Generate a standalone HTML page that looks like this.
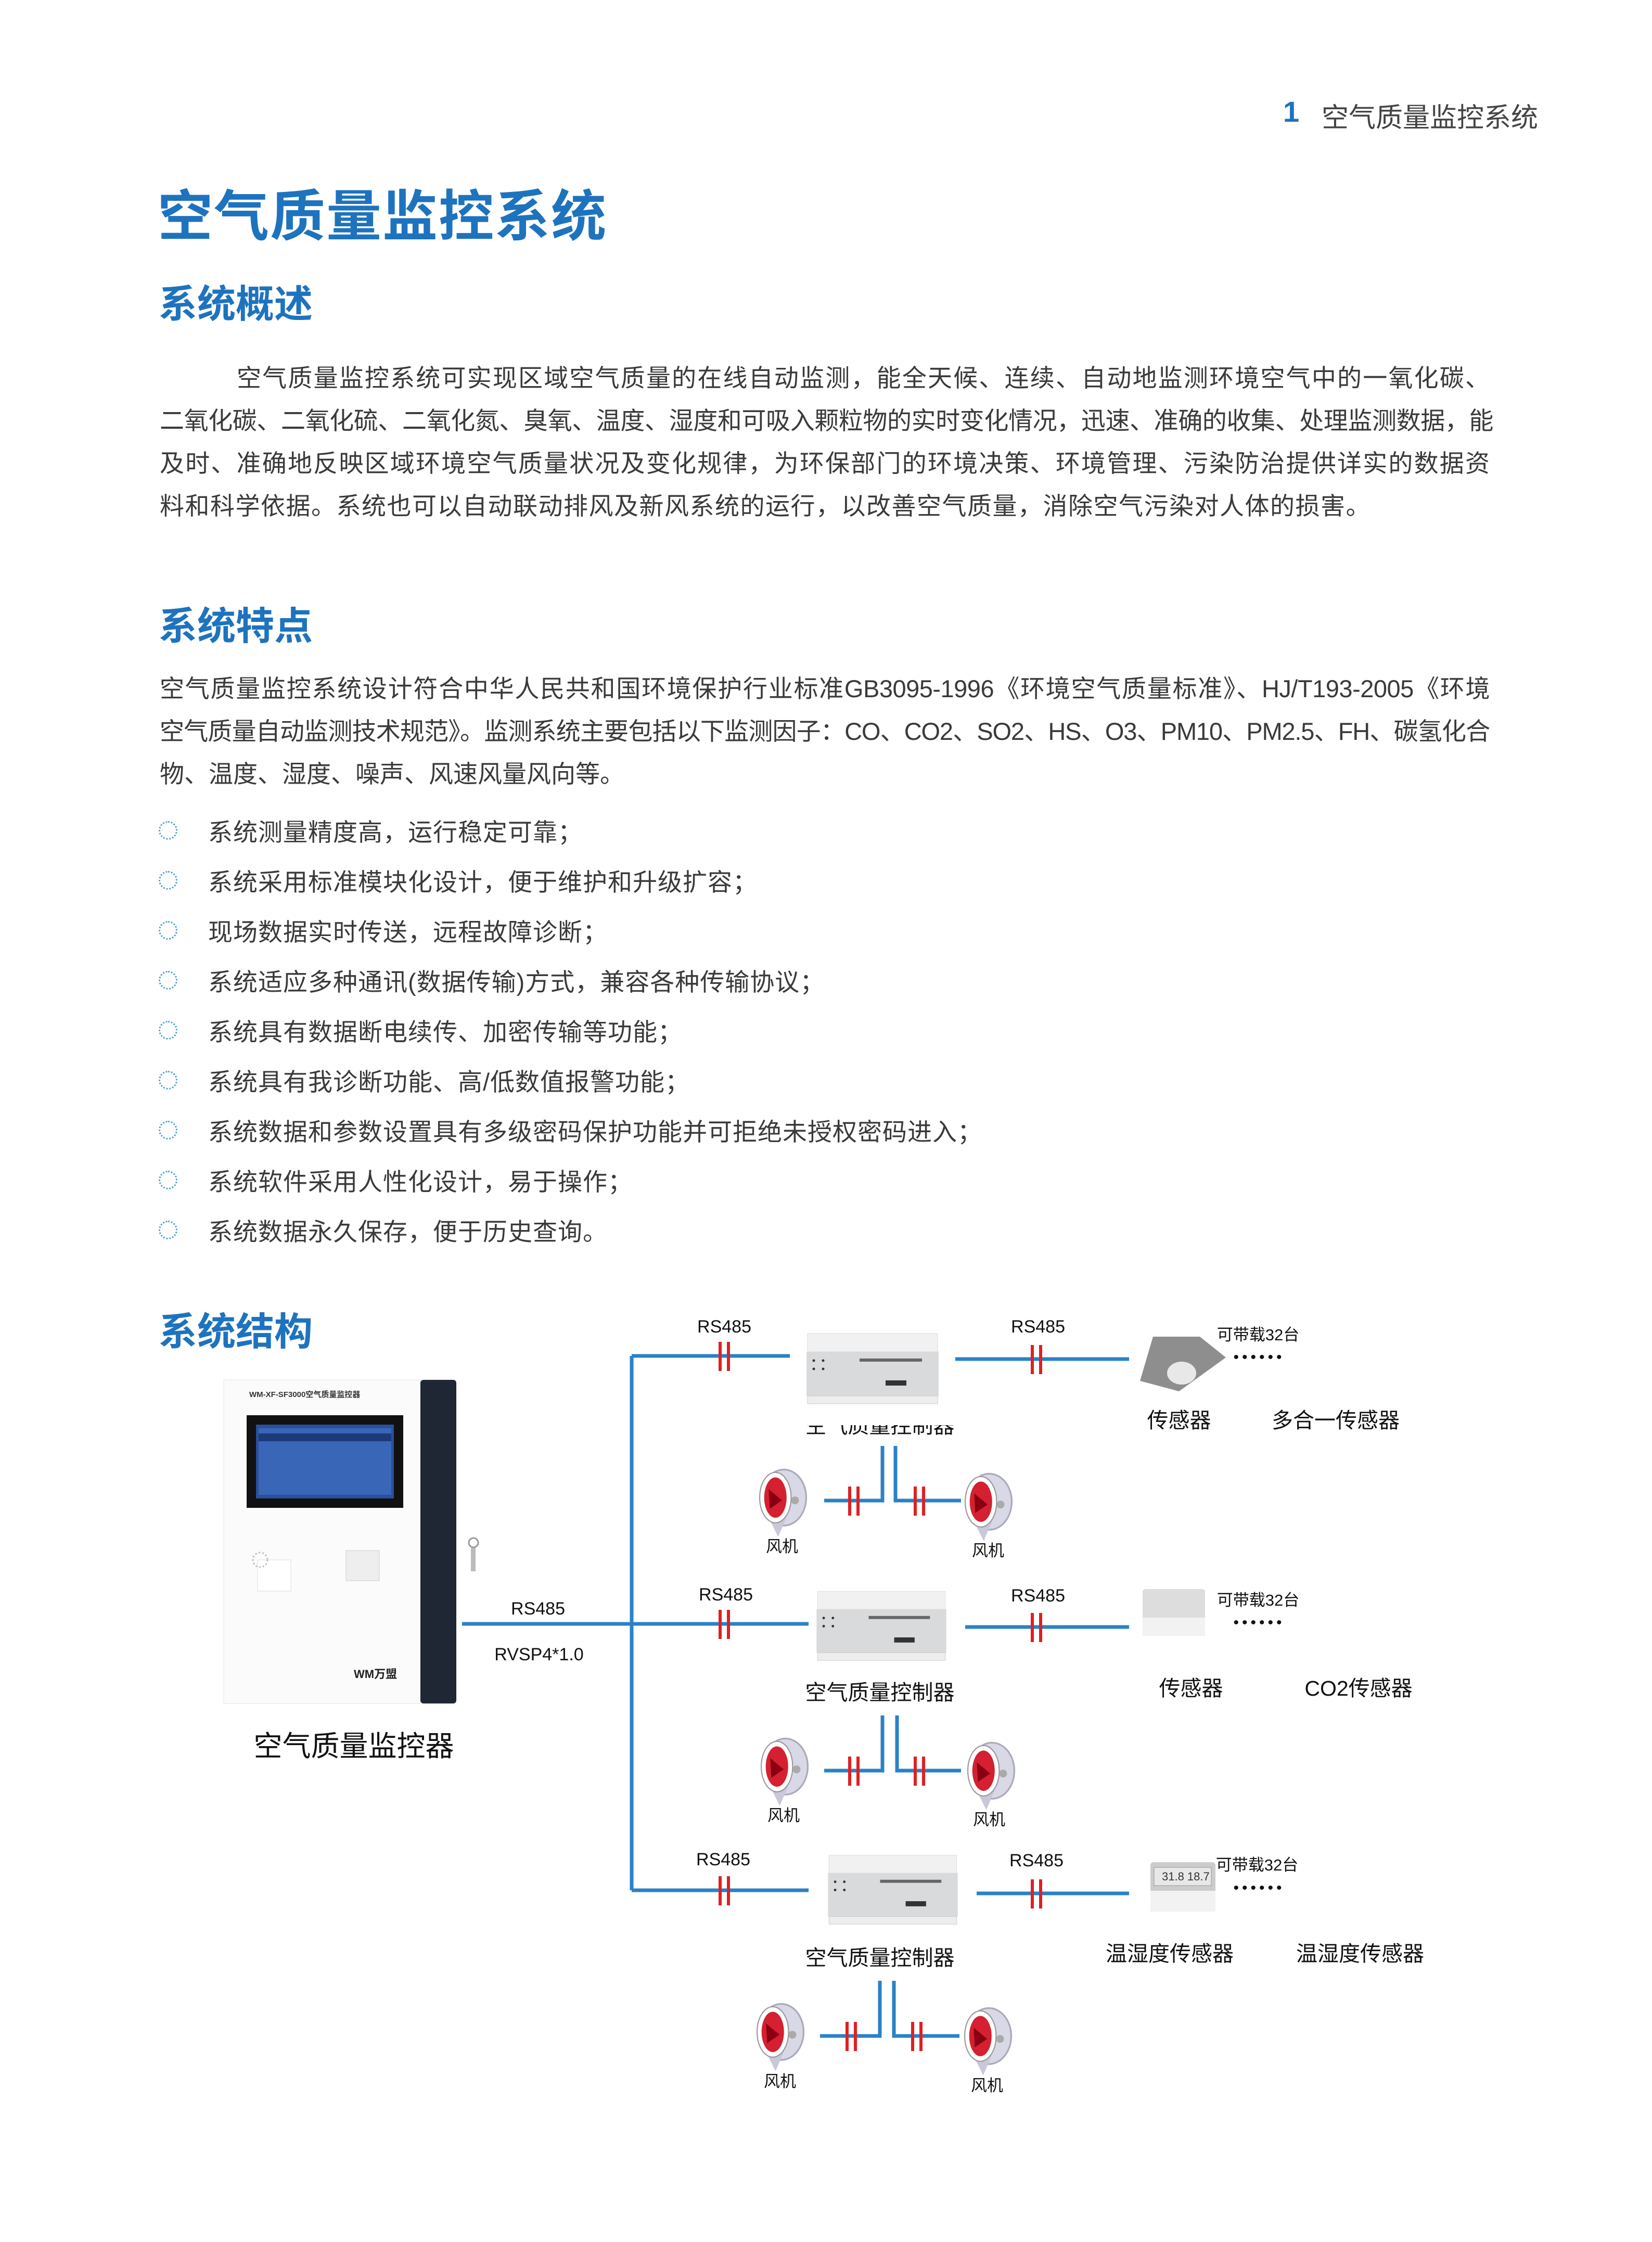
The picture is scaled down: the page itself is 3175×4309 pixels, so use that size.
<!DOCTYPE html>
<html><head><meta charset="utf-8">
<style>
body{margin:0;background:#fff;}
#p{position:relative;width:3175px;height:4309px;overflow:hidden;background:#fff;font-family:"Liberation Sans","Noto Sans CJK SC",sans-serif;color:#333;}
.a{position:absolute;white-space:nowrap;}
.h{color:#1e73be;font-weight:bold;}
.j{position:absolute;left:307px;width:2556px;font-size:47px;text-align:justify;text-align-last:justify;white-space:nowrap;color:#3a3a3a;}
.b{position:absolute;left:400px;font-size:47px;color:#3a3a3a;letter-spacing:1px;}
.bi{position:absolute;left:305px;width:30px;height:30px;border:3px dotted #4a9fd8;border-radius:50%;}
</style></head><body><div id="p">
<div class="a" style="left:2466px;top:182px;font-size:56px;color:#1e73be;font-weight:bold;">1</div>
<div class="a" style="left:2540px;top:184px;font-size:52px;color:#444;">空气质量监控系统</div>
<div class="a h" style="left:303px;top:330px;font-size:106px;letter-spacing:2px;">空气质量监控系统</div>
<div class="a h" style="left:305px;top:525px;font-size:74px;">系统概述</div>
<div class="j" style="top:688px;left:455px;width:2408px;">空气质量监控系统可实现区域空气质量的在线自动监测，能全天候、连续、自动地监测环境空气中的一氧化碳、</div>
<div class="j" style="top:770px;letter-spacing:-0.4px;">二氧化碳、二氧化硫、二氧化氮、臭氧、温度、湿度和可吸入颗粒物的实时变化情况，迅速、准确的收集、处理监测数据，能</div>
<div class="j" style="top:852px;">及时、准确地反映区域环境空气质量状况及变化规律，为环保部门的环境决策、环境管理、污染防治提供详实的数据资</div>
<div class="a" style="left:307px;top:934px;font-size:47px;color:#3a3a3a;letter-spacing:1.5px;">料和科学依据。系统也可以自动联动排风及新风系统的运行，以改善空气质量，消除空气污染对人体的损害。</div>
<div class="a h" style="left:305px;top:1144px;font-size:74px;">系统特点</div>
<div class="j" style="top:1285px;letter-spacing:-0.5px;">空气质量监控系统设计符合中华人民共和国环境保护行业标准GB3095-1996《环境空气质量标准》、HJ/T193-2005《环境</div>
<div class="j" style="top:1367px;letter-spacing:-1.2px;">空气质量自动监测技术规范》。监测系统主要包括以下监测因子：CO、CO2、SO2、HS、O3、PM10、PM2.5、FH、碳氢化合</div>
<div class="a" style="left:307px;top:1449px;font-size:47px;color:#3a3a3a;">物、温度、湿度、噪声、风速风量风向等。</div>
<div class="bi" style="top:1578px"></div><div class="b" style="top:1561px">系统测量精度高，运行稳定可靠；</div>
<div class="bi" style="top:1674px"></div><div class="b" style="top:1657px">系统采用标准模块化设计，便于维护和升级扩容；</div>
<div class="bi" style="top:1770px"></div><div class="b" style="top:1753px">现场数据实时传送，远程故障诊断；</div>
<div class="bi" style="top:1866px"></div><div class="b" style="top:1849px">系统适应多种通讯(数据传输)方式，兼容各种传输协议；</div>
<div class="bi" style="top:1962px"></div><div class="b" style="top:1945px">系统具有数据断电续传、加密传输等功能；</div>
<div class="bi" style="top:2058px"></div><div class="b" style="top:2041px">系统具有我诊断功能、高/低数值报警功能；</div>
<div class="bi" style="top:2154px"></div><div class="b" style="top:2137px">系统数据和参数设置具有多级密码保护功能并可拒绝未授权密码进入；</div>
<div class="bi" style="top:2250px"></div><div class="b" style="top:2233px">系统软件采用人性化设计，易于操作；</div>
<div class="bi" style="top:2346px"></div><div class="b" style="top:2329px">系统数据永久保存，便于历史查询。</div>
<div class="a h" style="left:305px;top:2500px;font-size:74px;">系统结构</div>

<svg class="a" style="left:0;top:0" width="3175" height="4309" viewBox="0 0 3175 4309" font-family="Liberation Sans, Noto Sans CJK SC, sans-serif">
<defs>
<symbol id="ctl" viewBox="0 0 270 165">
<rect x="0" y="0" width="270" height="165" fill="#fff"/>
<rect x="10" y="20" width="250" height="35" fill="#f1f1f1" stroke="#ddd"/>
<rect x="8" y="55" width="254" height="85" fill="#d9dadc"/>
<rect x="10" y="140" width="250" height="15" fill="#eee" stroke="#ccc"/>
<circle cx="22" cy="72" r="2.5" fill="#333"/><circle cx="40" cy="72" r="2.5" fill="#333"/>
<circle cx="22" cy="88" r="2.5" fill="#333"/><circle cx="40" cy="88" r="2.5" fill="#333"/>
<rect x="110" y="68" width="120" height="6" fill="#666"/>
<rect x="160" y="110" width="40" height="10" fill="#333"/>
</symbol>
<symbol id="fan" viewBox="0 0 100 130">
<ellipse cx="55" cy="55" rx="40" ry="50" fill="#d8d8e6" stroke="#aab" stroke-width="3"/>
<path d="M30 95 L45 125 L60 90 Z" fill="#c8c8d8"/>
<ellipse cx="40" cy="55" rx="28" ry="45" fill="#fff" stroke="#999" stroke-width="2"/>
<ellipse cx="40" cy="55" rx="20" ry="36" fill="#d42030"/>
<path d="M28 40 L52 60 L30 75 Z" fill="#8a0010"/>
<circle cx="75" cy="60" r="7" fill="#aaa"/>
</symbol>
</defs>
<g transform="translate(6,9)">
<g stroke="#2a82c8" stroke-width="7" fill="none">
<path d="M882 3112 H1208 M1208 2597 V3624 M1208 2597 H1512 M1208 3112 H1548 M1208 3624 H1548"/>
<path d="M1830 2603 H2164 M1849 3118 H2164 M1871 3630 H2164"/>
<path d="M1578 2875 H1690 V2770 M1715 2770 V2875 H1841"/>
<path d="M1578 3394 H1690 V3288 M1718 3288 V3394 H1841"/>
<path d="M1570 3904 H1685 V3798 M1712 3798 V3904 H1838"/>
</g>
<g stroke="#e02020" stroke-width="6">
<path d="M1378 2570 v56 M1394 2570 v56 M1978 2576 v56 M1994 2576 v56"/>
<path d="M1378 3085 v56 M1394 3085 v56 M1978 3091 v56 M1994 3091 v56"/>
<path d="M1378 3597 v56 M1394 3597 v56 M1978 3603 v56 M1994 3603 v56"/>
<path d="M1627 2848 v56 M1643 2848 v56 M1753 2848 v56 M1769 2848 v56"/>
<path d="M1627 3367 v56 M1643 3367 v56 M1753 3367 v56 M1769 3367 v56"/>
<path d="M1622 3877 v56 M1638 3877 v56 M1748 3877 v56 M1764 3877 v56"/>
</g>
<use href="#ctl" x="1534" y="2534" width="274" height="165"/>
<use href="#ctl" x="1553" y="3030" width="270" height="162"/>
<use href="#ctl" x="1575" y="3537" width="270" height="162"/>
<use href="#fan" x="1440" y="2810" width="110" height="140"/>
<use href="#fan" x="1835" y="2818" width="110" height="140"/>
<use href="#fan" x="1443" y="3327" width="110" height="140"/>
<use href="#fan" x="1840" y="3335" width="110" height="140"/>
<use href="#fan" x="1435" y="3837" width="110" height="140"/>
<use href="#fan" x="1834" y="3845" width="110" height="140"/>
<path d="M2210 2560 L2300 2560 L2350 2600 L2260 2665 L2185 2645 Z" fill="#8e8e8e"/>
<ellipse cx="2265" cy="2630" rx="28" ry="22" fill="#e8e8e8"/>
<rect x="2190" y="3045" width="120" height="90" rx="6" fill="#ddd"/><rect x="2190" y="3100" width="120" height="35" fill="#f2f2f2"/>
<rect x="2205" y="3570" width="125" height="95" rx="6" fill="#ccc"/><rect x="2212" y="3580" width="110" height="35" fill="#e8e8e8" stroke="#999"/><rect x="2205" y="3625" width="125" height="40" fill="#f2f2f2"/>
<text x="2227" y="3605" font-size="22" fill="#333">31.8  18.7</text>
<g font-size="34" fill="#111" text-anchor="middle">
<text x="1386" y="2552">RS485</text><text x="1989" y="2552">RS485</text>
<text x="1389" y="3067">RS485</text><text x="1989" y="3069">RS485</text>
<text x="1384" y="3576">RS485</text><text x="1986" y="3578">RS485</text>
<text x="1028" y="3094">RS485</text><text x="1030" y="3182">RVSP4*1.0</text>
</g>
<g font-size="31" fill="#111" text-anchor="middle">
<text x="2412" y="2567">可带载32台</text><text x="2412" y="3077">可带载32台</text><text x="2410" y="3586">可带载32台</text>
<text x="1497" y="2974">风机</text><text x="1893" y="2982">风机</text>
<text x="1500" y="3491">风机</text><text x="1895" y="3499">风机</text>
<text x="1493" y="4002">风机</text><text x="1891" y="4010">风机</text>
</g>
<g font-size="30" fill="#111" text-anchor="middle" letter-spacing="6">
<text x="2414" y="2609">••••••</text><text x="2414" y="3119">••••••</text><text x="2414" y="3629">••••••</text>
</g>
<g font-size="41" fill="#111" text-anchor="middle">
<text x="2260" y="2735">传感器</text><text x="2561" y="2735">多合一传感器</text>
<text x="2283" y="3250">传感器</text><text x="2605" y="3250">CO2传感器</text>
<text x="2242" y="3760">温湿度传感器</text><text x="2608" y="3760">温湿度传感器</text>
<text x="1685" y="2745">空气质量控制器</text>
<text x="1685" y="3258">空气质量控制器</text>
<text x="1685" y="3768">空气质量控制器</text>
</g>
<rect x="1500" y="2700" width="360" height="30" fill="#fff"/>
</g>
<rect x="430" y="2652" width="447" height="622" fill="#f3f3f3"/>
<rect x="430" y="2652" width="378" height="622" fill="#fbfbfb" stroke="#e6e6e6"/>
<rect x="808" y="2652" width="69" height="622" rx="6" fill="#1f2735"/>
<rect x="474" y="2720" width="301" height="178" fill="#111"/>
<rect x="492" y="2738" width="265" height="142" fill="#2a4f9c"/>
<rect x="497" y="2745" width="255" height="128" fill="#3a66b8"/>
<rect x="497" y="2755" width="255" height="15" fill="#1c3a7a"/>
<rect x="495" y="2998" width="64" height="60" fill="#fff" stroke="#ddd"/>
<rect x="665" y="2980" width="64" height="58" fill="#eee" stroke="#ccc"/>
<circle cx="500" cy="2998" r="14" fill="none" stroke="#bbb" stroke-dasharray="3 4" stroke-width="3"/>
<text x="479" y="2685" font-size="15" font-weight="bold" fill="#333">WM-XF-SF3000空气质量监控器</text>
<text x="680" y="3225" font-size="22" font-weight="bold" fill="#222">WM万盟</text>
<circle cx="910" cy="2965" r="9" fill="none" stroke="#999" stroke-width="3"/>
<rect x="905" y="2975" width="9" height="45" fill="#bbb"/>
<text x="680" y="3375" font-size="55" fill="#111" text-anchor="middle">空气质量监控器</text>
</svg>
</div></body></html>
